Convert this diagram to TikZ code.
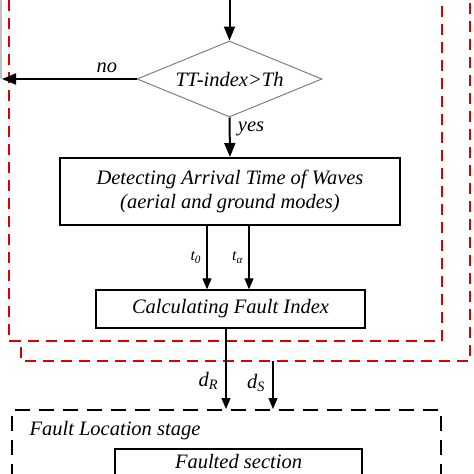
\documentclass[tikz,border=0pt]{standalone}
\usepackage{fontspec}
\setmainfont{Liberation Serif}
\usetikzlibrary{shapes.geometric,arrows.meta}

\begin{document}
\begin{tikzpicture}[x=1pt, y=-1pt,
        font=\fontsize{20.5}{24}\selectfont\itshape,
        bigarrow/.style={line width=2pt, -{Triangle[length=14pt,width=11pt]}},
        smallarrow/.style={line width=1.2pt, -{Triangle[length=11pt,width=9pt]}},
        reddash/.style={red!85!black, line width=2pt, dash pattern=on 11pt off 7pt},
        procbox/.style={draw, rectangle, align=center, inner sep=0pt}]
    \useasboundingbox (0,0) rectangle (474,474);
    \clip (0,0) rectangle (474,474);

    % Nodes
    \node[diamond, draw=gray, line width=1pt, aspect=2.4, inner sep=0pt,
          minimum width=185pt, minimum height=76pt] (D) at (229.5,79) {TT-index>Th};
    \node[procbox, line width=2pt, minimum width=340pt, minimum height=67pt] (B1) at (230,191.5)
        {Detecting Arrival Time of Waves\\(aerial and ground modes)};
    \node[procbox, line width=1.3pt, minimum width=269pt, minimum height=38pt] (B2) at (230.5,309)
        {Calculating Fault Index};
    \node[draw, line width=1.5pt, dash pattern=on 15pt off 9pt, anchor=north west,
          minimum width=429pt, minimum height=120pt] (FL) at (11,409) {};
    \node[anchor=west] (FLlabel) at (26,431) {Fault Location stage};
    \node[procbox, line width=1.5pt, anchor=north, minimum width=247pt,
          inner ysep=6pt, text depth=30pt] (FS) at (238.5,448) {Faulted section};

    \coordinate (top) at (229.5,0);
    \coordinate (noend) at (2,79);
    \coordinate (dS) at (273,361);

    % Stage frames
    \draw[gray!50, line width=1.5pt] (1,0) -- (1,79);
    \draw[reddash] (9,0) -- (9,341) -- (442,341) -- (442,0);
    \draw[reddash] (9,341) -- (21,341) -- (21,361) -- (470,361) -- (470,0);

    % Edges
    \draw[bigarrow] (top) -- (D.north);
    \draw[bigarrow] (D.west) -- (noend) node[pos=0.22, above=2pt] {no};
    \draw[bigarrow] (D.south) -- (B1.north) node[pos=0.3, right=4pt] {yes};
    \draw[smallarrow] ([xshift=-23pt]B1.south) -- ([xshift=-23pt]B1.south |- B2.north)
        node[midway, left=2pt, font=\fontsize{16}{18}\selectfont\itshape] {t\textsubscript{0}};
    \draw[smallarrow] ([xshift=19pt]B1.south) -- ([xshift=19pt]B1.south |- B2.north)
        node[midway, left=2pt, font=\fontsize{16}{18}\selectfont\itshape] {t\textsubscript{α}};
    \draw[smallarrow] ([xshift=-4.5pt]B2.south) -- ([xshift=-4.5pt]B2.south |- FL.north)
        node[pos=0.65, left=4pt] {d\textsubscript{R}};
    \draw[smallarrow] (dS) -- (dS |- FL.north)
        node[pos=0.45, left=4pt] {d\textsubscript{S}};
\end{tikzpicture}
\end{document}
